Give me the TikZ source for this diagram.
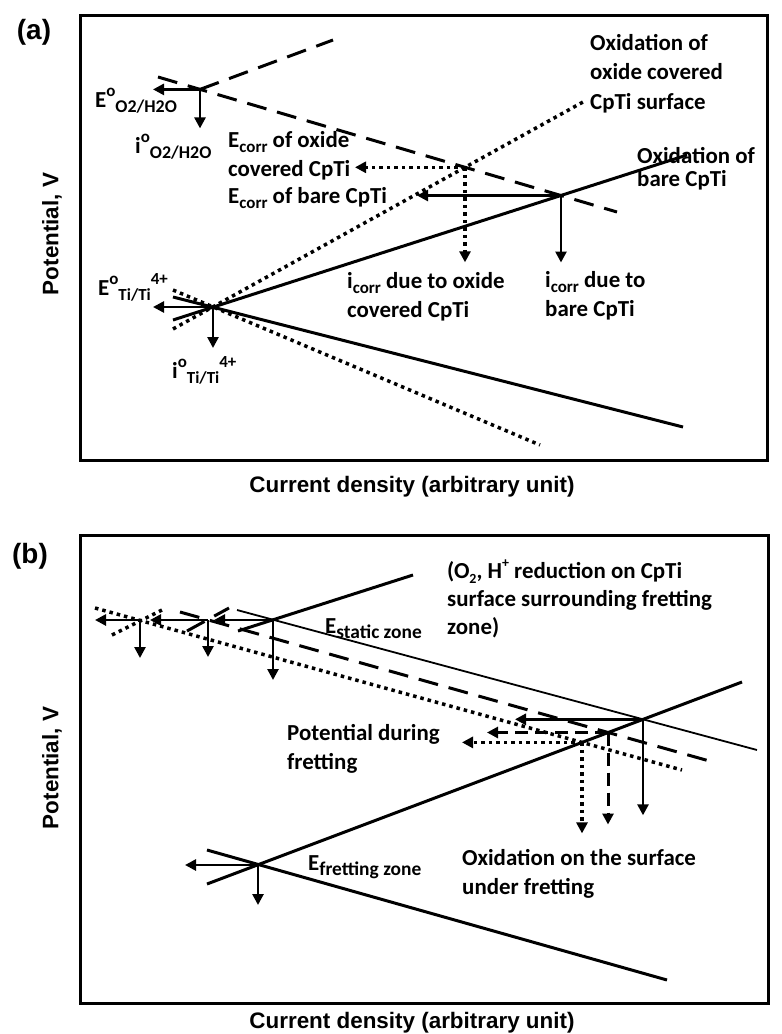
\documentclass[tikz,border=0pt]{standalone}
\usepackage{fontspec}
\setmainfont{Carlito}
\newfontfamily\axfont{Liberation Sans}
\usetikzlibrary{arrows.meta}
\newcommand{\mysub}[2][17]{\raisebox{-0.25em}{\fontsize{#1}{#1}\selectfont #2}}
\newcommand{\mysup}[2][17]{\raisebox{0.45em}{\fontsize{#1}{#1}\selectfont #2}}
\newcommand{\lbl}[1]{\begin{tabular}[t]{@{}l@{}}#1\end{tabular}}
\tikzset{
  lab/.style={font=\fontsize{23}{30}\selectfont\bfseries, inner sep=0pt, anchor=base west},
  ax/.style={font=\axfont\fontsize{22.5}{26}\selectfont\bfseries, inner sep=0pt},
  tafel/.style={line width=3bp},
  thinl/.style={line width=1.8bp},
  dsh/.style={line width=3bp, dash pattern=on 20bp off 11bp},
  dshs/.style={line width=3bp, dash pattern=on 13bp off 7bp},
  dot/.style={line width=3.5bp, dash pattern=on 3.5bp off 4bp},
  arr/.style={line width=2.6bp, -{Triangle[length=11bp,width=11bp]}},
  frame/.style={line width=3bp},
}
\begin{document}
\begin{tikzpicture}[x=1bp,y=-1bp]
\useasboundingbox (0,0) rectangle (782,1034);

% ---------------- panel (a) ----------------
\draw[frame] (80,15) rectangle (767,460);
\node[ax, font=\axfont\fontsize{28}{30}\selectfont\bfseries] (pa) at (34,32) {(a)};
\node[ax, rotate=90] (va) at (52,234) {Potential, V};
\node[ax, anchor=base] (ca) at (412,492) {Current density (arbitrary unit)};

\coordinate (O) at (200,89.4);
\coordinate (T) at (213,307);
\coordinate (Ox) at (465,167.3);
\coordinate (Bb) at (561,195.5);

\draw[dsh] (158,77) -- (617,212);
\draw[dsh] (O) -- (333,40);
\draw[tafel] (173,320) -- (687,155);
\draw[tafel] (173,297) -- (683,427);
\draw[dot] (173,329) -- (583,102);
\draw[dot] (173,290) -- (540,445);

\draw[arr] (O) -- ++(-47,0);
\draw[arr] (O) -- ++(0,39);
\draw[arr,dot] (Ox) -- ++(-110,0);
\draw[arr,dot] (Ox) -- ++(0,95);
\draw[arr] (Bb) -- ++(-144,0);
\draw[arr] (Bb) -- ++(0,67);
\draw[arr] (T) -- ++(-60,0);
\draw[arr] (T) -- ++(0,41);

\node[lab] (eO2) at (95,107) {E\mysup{o}\mysub[18]{O2/H2O}};
\node[lab] (iO2) at (135,153) {i\mysup{o}\mysub[18]{O2/H2O}};
\node[lab] (ecox) at (228,147) {\lbl{E\mysub{corr} of oxide\\covered CpTi}};
\node[lab] (ecbare) at (228,203) {E\mysub{corr} of bare CpTi};
\node[lab] (oxcov) at (590,50) {\lbl{Oxidation of\\oxide covered\\CpTi surface}};
\node[lab] (oxbare) at (637,163) {\lbl{Oxidation of\\[-6bp]bare CpTi}};
\node[lab] (eTi) at (98,295) {E\mysup{o}\mysub{Ti/Ti}\mysup{4+}};
\node[lab] (iTi) at (172,378) {i\mysup{o}\mysub{Ti/Ti}\mysup{4+}};
\node[lab] (icox) at (347,288) {\lbl{i\mysub{corr} due to oxide\\covered CpTi}};
\node[lab] (icbare) at (545,287) {\lbl{i\mysub{corr} due to\\bare CpTi}};

% ---------------- panel (b) ----------------
\draw[frame] (80,535) rectangle (768,1003);
\node[ax, font=\axfont\fontsize{28}{30}\selectfont\bfseries] (pb) at (30,556) {(b)};
\node[ax, rotate=90] (vb) at (52,768) {Potential, V};
\node[ax, anchor=base] (cb) at (412,1028) {Current density (arbitrary unit)};

\coordinate (S) at (273,620);
\coordinate (M) at (208,620);
\coordinate (L) at (140,620);
\coordinate (F) at (258,865);
\coordinate (B) at (643,719.3);
\coordinate (D) at (608,732.5);
\coordinate (P) at (582,742.4);

\draw[thinl] (237,610) -- (757,750);
\draw[tafel] (238,631) -- (413,575);
\draw[tafel] (207,884) -- (742,682);
\draw[tafel] (207,850) -- (667,980);
\draw[dsh] (180,612) -- (713,762);
\draw[dsh] (187,631) -- (229,608);
\draw[dot] (95,608) -- (682,770);
\draw[dot] (112,635) -- (162,610);

\draw[arr] (S) -- ++(-59,0);
\draw[arr] (S) -- ++(0,60);
\draw[arr] (M) -- ++(-58,0);
\draw[arr] (M) -- ++(0,37);
\draw[arr] (L) -- ++(-45,0);
\draw[arr] (L) -- ++(0,38);
\draw[arr] (B) -- ++(-128,0);
\draw[arr] (B) -- ++(0,96);
\draw[arr,dshs] (D) -- ++(-121,0);
\draw[arr,dshs] (D) -- ++(0,92);
\draw[arr,dot] (P) -- ++(-120,0);
\draw[arr,dot] (P) -- ++(0,91);
\draw[arr] (F) -- ++(-73,0);
\draw[arr] (F) -- ++(0,40);

\node[lab] (estat) at (325,633) {E\mysub[19.5]{static zone}};
\node[lab] (o2h) at (447,578) {\lbl{(O\mysub[14]{2}, H\mysup[14]{+} reduction on CpTi\\[-1bp]surface surrounding fretting\\[-2bp]zone)}};
\node[lab] (pdf) at (287,740) {\lbl{Potential during\\fretting}};
\node[lab] (oxf) at (462,865) {\lbl{Oxidation on the surface\\under fretting}};
\node[lab] (efret) at (308,870) {E\mysub[19.5]{fretting zone}};
\end{tikzpicture}
\end{document}
